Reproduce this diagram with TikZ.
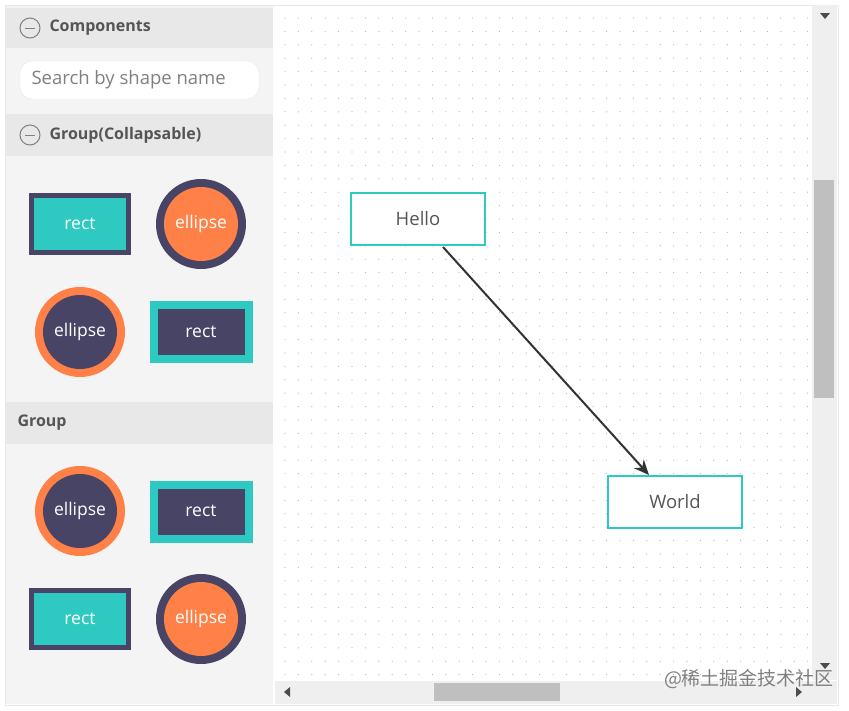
\documentclass[tikz,border=0pt]{standalone}
\usepackage{fontspec}
\setmainfont{Open Sans}
\newfontfamily\cjk{Noto Sans CJK SC}
\usetikzlibrary{arrows.meta}
\definecolor{teal1}{HTML}{2ECAC1}
\definecolor{dark1}{HTML}{484465}
\definecolor{orng}{HTML}{FF8148}
\definecolor{hdr}{HTML}{E8E8E8}
\definecolor{panel}{HTML}{F4F4F4}
\definecolor{txt}{HTML}{555555}
\tikzset{
 hdrtext/.style={anchor=west,font=\bfseries\fontsize{16}{18}\selectfont,text=txt},
 shtext/.style={text=white,font=\fontsize{17.5}{20}\selectfont},
 canvasbox/.style={draw=teal1,line width=2.5pt,fill=white,minimum width=134pt,minimum height=52pt,font=\fontsize{18.5}{21}\selectfont,text=txt}
}
\begin{document}
\begin{tikzpicture}[x=1pt,y=-1pt]
\useasboundingbox (0,0) rectangle (849,710);
\fill[white] (0,0) rectangle (849,710);
\draw[hdr] (5,5) rectangle (838,705);
% left panel
\fill[panel] (6,6) rectangle (273,704);
\fill[hdr] (6,8) rectangle (273,48);
\draw[gray,line width=1pt] (30,28) circle (10); \draw[gray,line width=1pt] (25,28)--(35,28);
\node[hdrtext] (h1) at (46,28) {Components};
\draw[hdr,fill=white,rounded corners=12pt] (20,61) rectangle (259,99);
\node[anchor=west,text=gray,font=\fontsize{18.5}{21}\selectfont] (search) at (28,80) {Search by shape name};
\fill[hdr] (6,114) rectangle (273,156);
\draw[gray,line width=1pt] (30,135) circle (10); \draw[gray,line width=1pt] (25,135)--(35,135);
\node[hdrtext] (h2) at (46,135) {Group(Collapsable)};
\fill[hdr] (6,402) rectangle (273,444);
\node[hdrtext] (h3) at (14,423) {Group};
% shapes
\fill[dark1] (29,193) rectangle (131,255); \fill[teal1] (34,198) rectangle (126,250);
\node[shtext] (r1) at (80,224) {rect};
\fill[dark1] (201,224) circle (45); \fill[orng] (201,224) circle (37);
\node[shtext] (e1) at (201,224) {ellipse};
\fill[orng] (80,332) circle (45); \fill[dark1] (80,332) circle (37);
\node[shtext] (e2) at (80,332) {ellipse};
\fill[teal1] (150,301) rectangle (253,363); \fill[dark1] (158,309) rectangle (245,355);
\node[shtext] (r2) at (201,332) {rect};
\fill[orng] (80,511) circle (45); \fill[dark1] (80,511) circle (37);
\node[shtext] (e3) at (80,511) {ellipse};
\fill[teal1] (150,481) rectangle (253,543); \fill[dark1] (158,489) rectangle (245,535);
\node[shtext] (r3) at (201,511) {rect};
\fill[dark1] (29,588) rectangle (131,650); \fill[teal1] (34,593) rectangle (126,645);
\node[shtext] (r4) at (80,619) {rect};
\fill[dark1] (201,619) circle (45); \fill[orng] (201,619) circle (37);
\node[shtext] (e4) at (201,619) {ellipse};
% canvas dots
\foreach \i in {0,...,39} \foreach \j in {0,...,49} {
  \fill[gray!60] ({285+\i*13.4},{18+\j*13.4}) circle (0.6);
}
% scrollbars
\fill[hdr!70] (812,5) rectangle (837,680);
\fill[black!25] (814,180) rectangle (834,398);
\fill[black!70] (820,13)--(830,13)--(825,19)--cycle;
\fill[black!70] (820,663)--(830,663)--(825,669)--cycle;
\fill[hdr!70] (275,681) rectangle (837,704);
\fill[black!25] (434,683) rectangle (560,701);
\fill[black!70] (290,687)--(290,697)--(284,692)--cycle;
\fill[black!70] (796,687)--(796,697)--(802,692)--cycle;
% nodes
\node[canvasbox] (hello) at (418,219) {Hello};
\node[canvasbox] (world) at (675,502) {World};
\draw[black!80,line width=2pt,-{Stealth[length=15pt,width=13pt]}] (443,247) -- (649,475);
\node[text=gray,font=\cjk\fontsize{19}{21}\selectfont] (wm) at (749,679) {@稀土掘金技术社区};
\end{tikzpicture}
\end{document}
